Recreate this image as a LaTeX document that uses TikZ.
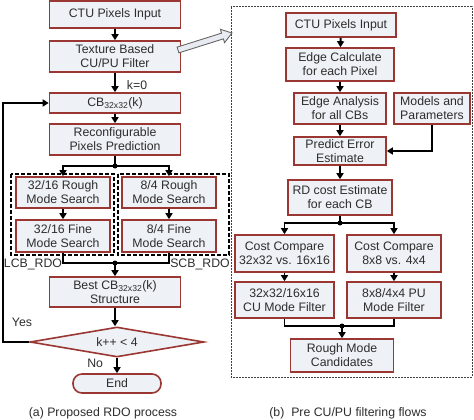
\documentclass[tikz,border=0pt]{standalone}
\usepackage{fontspec}
\setmainfont{Liberation Sans}
\usetikzlibrary{shapes.geometric,arrows.meta,calc}
\definecolor{boxred}{RGB}{155,55,50}
\definecolor{boxfill}{RGB}{238,241,246}
\definecolor{txt}{RGB}{45,45,45}
\definecolor{hollow}{RGB}{232,236,242}
\begin{document}
\begin{tikzpicture}[x=1pt,y=-1pt,
  box/.style={draw=boxred, line width=1.6pt, fill=boxfill, align=center, inner sep=0pt, text=txt, font=\fontsize{12.3}{14}\selectfont},
  arr/.style={line width=1.9pt, -{Triangle[length=6pt,width=7pt]}},
  ln/.style={line width=1.9pt},
  grp/.style={draw=black, line width=1.3pt, dash pattern=on 4pt off 2pt},
  lbl/.style={text=txt, font=\fontsize{12.3}{14}\selectfont, inner sep=0pt},
  dot/.style={circle, fill=black, inner sep=0pt, minimum size=5pt}
  ]
\useasboundingbox (0,0) rectangle (474,420);

% ---------- left: (a) ----------
\node[box, minimum width=131pt, minimum height=27pt] (l1) at (115,14.5) {CTU Pixels Input};
\node[box, minimum width=131pt, minimum height=31pt] (l2) at (115,56.5) {Texture Based\\CU/PU Filter};
\node[box, minimum width=131pt, minimum height=20pt] (cb) at (115,103) {CB\textsubscript{32x32}(k)};
\node[box, minimum width=131pt, minimum height=31pt] (rp) at (115,139.5) {Reconfigurable\\Pixels Prediction};

\draw[grp] (11,174) rectangle (114,255);
\draw[grp] (118,174) rectangle (229,255);

\node[box, minimum width=94pt, minimum height=31pt] (rl) at (63,192.5) {32/16 Rough\\Mode Search};
\node[box, minimum width=94pt, minimum height=32pt] (fl) at (63,236) {32/16 Fine\\Mode Search};
\node[box, minimum width=94pt, minimum height=31pt] (rr) at (169,192.5) {8/4 Rough\\Mode Search};
\node[box, minimum width=94pt, minimum height=32pt] (fr) at (169,236) {8/4 Fine\\Mode Search};

\node[lbl] (lcb) at (33,264) {LCB\_RDO};
\node[lbl] (scb) at (200,264) {SCB\_RDO};

\node[box, minimum width=131pt, minimum height=30pt] (best) at (115,292) {Best CB\textsubscript{32x32}(k)\\Structure};
\node[box, diamond, aspect=5.8, minimum width=174pt, minimum height=30pt] (dec) at (117,342) {k++ < 4};
\node[box, rounded corners=9pt, minimum width=88pt, minimum height=19pt] (end) at (117,383.5) {End};

\coordinate (j1) at (115,166);
\coordinate (j2) at (115,263);
\coordinate (lp) at (3,342);

\draw[arr] (l1) -- (l2);
\draw[arr] (l2) -- node[lbl, right=11pt, pos=0.65] (k0) {k=0} (cb);
\draw[arr] (cb) -- (rp);
\draw[ln] (rp.south) -- (j1);
\draw[arr] (j1) -| (rl.north);
\draw[arr] (j1) -| (rr.north);
\draw[arr] (rl) -- (fl);
\draw[arr] (rr) -- (fr);
\draw[ln] (fl.south) |- (j2);
\draw[ln] (fr.south) |- (j2);
\draw[arr] (j2) -- (best.north);
\node[dot] at (j1) {};
\node[dot] at (j2) {};
\draw[arr] (best.south) -- ($(dec.north)+(-2,0)$);
\draw[arr] (dec.south) -- node[lbl, left=13pt, pos=0.35] (no) {No} (end.north);
\draw[arr] (dec.west) -- (lp) |- (cb.west);
\node[lbl] (yes) at (22,322) {Yes};

\node[lbl] (capa) at (103,413) {(a) Proposed RDO process};

% ---------- right: (b) ----------
\draw[draw=black!75, line width=1pt, dash pattern=on 2pt off 1pt] (231,7) rectangle (472,377);

\node[box, minimum width=110pt, minimum height=24pt] (r1) at (341,25) {CTU Pixels Input};
\node[box, minimum width=108pt, minimum height=33pt] (r2) at (340,64.5) {Edge Calculate\\for each Pixel};
\node[box, minimum width=92pt, minimum height=31pt] (r3) at (340,108.5) {Edge Analysis\\for all CBs};
\node[box, minimum width=76pt, minimum height=31pt] (mp) at (432,108.5) {Models and\\Parameters};
\node[box, minimum width=92pt, minimum height=28pt] (r4) at (340,151) {Predict Error\\Estimate};
\node[box, minimum width=104pt, minimum height=35pt] (r5) at (340,197.5) {RD cost Estimate\\for each CB};
\node[box, minimum width=99pt, minimum height=37pt] (cl) at (284.5,253.5) {Cost Compare\\32x32 vs. 16x16};
\node[box, minimum width=94pt, minimum height=37pt] (cr) at (394,253.5) {Cost Compare\\8x8 vs. 4x4};
\node[box, minimum width=99pt, minimum height=36pt] (ml) at (284.5,300) {32x32/16x16\\CU Mode Filter};
\node[box, minimum width=94pt, minimum height=36pt] (mr) at (394,300) {8x8/4x4 PU\\Mode Filter};
\node[box, minimum width=103pt, minimum height=33pt] (cand) at (342,355.5) {Rough Mode\\Candidates};

\coordinate (j3) at (340,223);
\coordinate (j4) at (342,326);

\draw[arr] (r1) -- (r2);
\draw[arr] (r2) -- (r3);
\draw[arr] (r3) -- (r4);
\draw[arr] (mp.south) |- (r4.east);
\draw[arr] (r4) -- (r5);
\draw[ln] (r5.south) -- (j3);
\draw[arr] (j3) -| (cl.north);
\draw[arr] (j3) -| (cr.north);
\draw[arr] (cl) -- (ml);
\draw[arr] (cr) -- (mr);
\draw[ln] (ml.south) |- (j4);
\draw[ln] (mr.south) |- (j4);
\draw[arr] (j4) -- (cand.north);
\node[dot] at (j3) {};
\node[dot] at (j4) {};

\node[lbl] (capb) at (348,413) {(b)\ \ Pre CU/PU filtering flows};

% ---------- hollow arrow ----------
\coordinate (hs) at (178,50);
\coordinate (ht) at (232,33);
\coordinate (hb) at ($(ht)!10pt!(hs)$);
\filldraw[fill=hollow, draw=black!60, line width=0.9pt, line join=miter]
  ($(hs)!3pt!90:(ht)$) -- ($(hb)!3pt!-90:(hs)$) -- ($(hb)!7pt!-90:(hs)$) -- (ht)
  -- ($(hb)!7pt!90:(hs)$) -- ($(hb)!3pt!90:(hs)$) -- ($(hs)!3pt!-90:(ht)$) -- cycle;
\end{tikzpicture}
\end{document}
